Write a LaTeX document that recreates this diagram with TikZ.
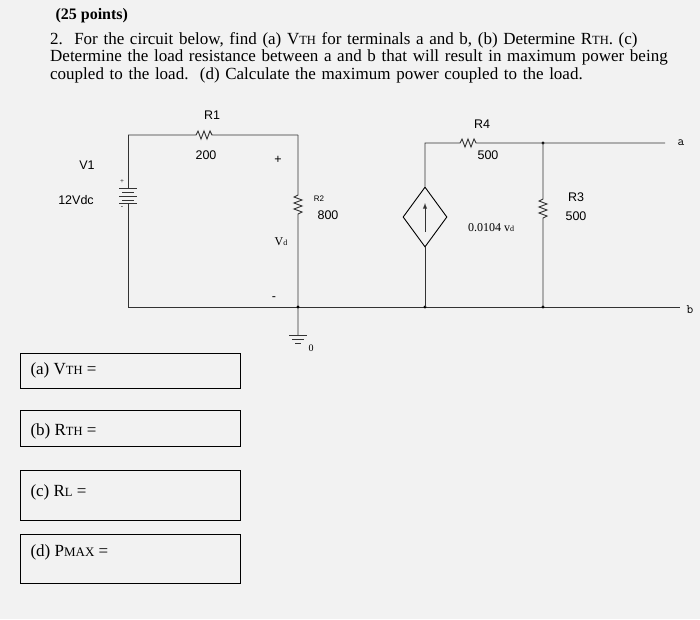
\documentclass[tikz,border=0pt]{standalone}
\usepackage{fontspec}
\setmainfont{Liberation Serif}
\newfontfamily\lsans{Liberation Sans}
\usetikzlibrary{shapes.geometric}
\begin{document}
\begin{tikzpicture}[x=1pt,y=-1pt,
  wire/.style={line width=0.9pt,black!80},
  lab/.style={font=\lsans\fontsize{12.5}{12.5}\selectfont},
  ansbox/.style={draw,line width=0.9pt,minimum width=220pt,anchor=north west,inner sep=0pt},
  dot/.style={circle,fill,inner sep=1.1pt}]
\useasboundingbox (0,0) rectangle (700,619);
\fill[black!5] (0,0) rectangle (700,619);
% header text
\node[anchor=west,font=\bfseries\fontsize{16}{16}\selectfont] (hd) at (52,16) {(25 points)};
\node[anchor=north west,align=left,font=\fontsize{17}{17.5}\selectfont,text width=660pt,inner sep=0pt] (q) at (50,32)
 {2.\ \ For the circuit below, find (a) V{\fontsize{12.5}{12.5}\selectfont TH} for terminals a and b, (b) Determine R{\fontsize{12.5}{12.5}\selectfont TH}. (c)\\
 Determine the load resistance between a and b that will result in maximum power being\\
 coupled to the load.\ \ (d) Calculate the maximum power coupled to the load.};
% coordinates
\coordinate (tl) at (128,135);
\coordinate (bl) at (128,307);
\coordinate (tr2) at (298,135);
\coordinate (br2) at (298,307);
\coordinate (gnd) at (298,335);
\coordinate (ts) at (425,143);
\coordinate (bs) at (425,307);
\coordinate (t3) at (543,143);
\coordinate (b3) at (543,307);
\coordinate (ta) at (665,143);
\coordinate (tb) at (680,307);
% left loop
\draw[wire] (tl) -- (128,188) (128,203) -- (bl) -- (tb);
\draw[wire] (119,188) -- (137,188) (122,192) -- (134,192) (119,196) -- (137,196) (122,200) -- (134,200) (119,203) -- (137,203);
\node[font=\fontsize{7}{7}\selectfont] (bp) at (122,182) {+};
\node[font=\fontsize{7}{7}\selectfont] (bm) at (122,208) {-};
\draw[wire] (tl) -- (196,135) -- (198,131) -- (201,139) -- (204,131) -- (207,139) -- (210,131) -- (212,135) -- (tr2);
\draw[wire] (tr2) -- (298,195) -- (294,197) -- (302,200) -- (294,203) -- (302,206) -- (294,209) -- (302,212) -- (298,214) -- (br2) -- (gnd);
\draw[wire] (289,335) -- (307,335) (292,339) -- (304,339) (295,343) -- (301,343);
\node[dot] (n1) at (br2) {};
\node[dot] (n2) at (bs) {};
\node[dot] (n3) at (b3) {};
\node[dot] (n4) at (t3) {};
% source
\node[diamond,draw,line width=0.9pt,minimum width=44pt,minimum height=60pt,inner sep=0pt] (src) at (425,217) {};
\draw[wire,-latex] (425,232) -- (425,203);
\draw[wire] (src.north) -- (ts) -- (460,143) -- (462,139) -- (465,147) -- (468,139) -- (471,147) -- (474,139) -- (476,143) -- (ta);
\draw[wire] (src.south) -- (bs);
\draw[wire] (t3) -- (543,199) -- (539,201) -- (547,204) -- (539,207) -- (547,210) -- (539,213) -- (547,216) -- (543,218) -- (b3);
% labels
\node[lab] (lR1) at (212,115) {R1};
\node[lab] (l200) at (206,155) {200};
\node[lab] (lp) at (278,160) {+};
\node[lab] (lV1) at (87,165) {V1};
\node[lab] (l12) at (76,200) {12Vdc};
\node[font=\lsans\fontsize{8}{8}\selectfont] (lR2) at (319,199) {R2};
\node[lab] (l800) at (328,215) {800};
\node[font=\fontsize{12}{12}\selectfont] (lvd) at (281,242) {V{\fontsize{8}{8}\selectfont d}};
\node[lab] (lm) at (274,299) {-};
\node[font=\fontsize{10}{10}\selectfont] (l0) at (311,348) {0};
\node[lab] (lR4) at (482,124) {R4};
\node[lab] (l500a) at (488,155) {500};
\node[lab] (lR3) at (576,197) {R3};
\node[lab] (l500b) at (576,216) {500};
\node[font=\fontsize{12}{12}\selectfont] (lcs) at (491,228) {0.0104 v{\fontsize{8}{8}\selectfont d}};
\node[font=\ttfamily\fontsize{13}{13}\selectfont] (la) at (681,143) {a};
\node[font=\ttfamily\fontsize{13}{13}\selectfont] (lb) at (690,310) {b};
% answer boxes
\node[ansbox,minimum height=35pt] (ba) at (20,353) {};
\node[anchor=west,font=\fontsize{17}{17}\selectfont] (ta1) at (27,370) {(a) V{\fontsize{12.5}{12.5}\selectfont TH} =};
\node[ansbox,minimum height=36pt] (bb) at (20,410) {};
\node[anchor=west,font=\fontsize{17}{17}\selectfont] (tb1) at (27,431) {(b) R{\fontsize{12.5}{12.5}\selectfont TH} =};
\node[ansbox,minimum height=50pt] (bc) at (20,470) {};
\node[anchor=west,font=\fontsize{17}{17}\selectfont] (tc1) at (27,492) {(c) R{\fontsize{12.5}{12.5}\selectfont L} =};
\node[ansbox,minimum height=49pt] (bd) at (20,534) {};
\node[anchor=west,font=\fontsize{17}{17}\selectfont] (td1) at (27,552) {(d) P{\fontsize{13}{13}\selectfont MAX} =};
\end{tikzpicture}
\end{document}
